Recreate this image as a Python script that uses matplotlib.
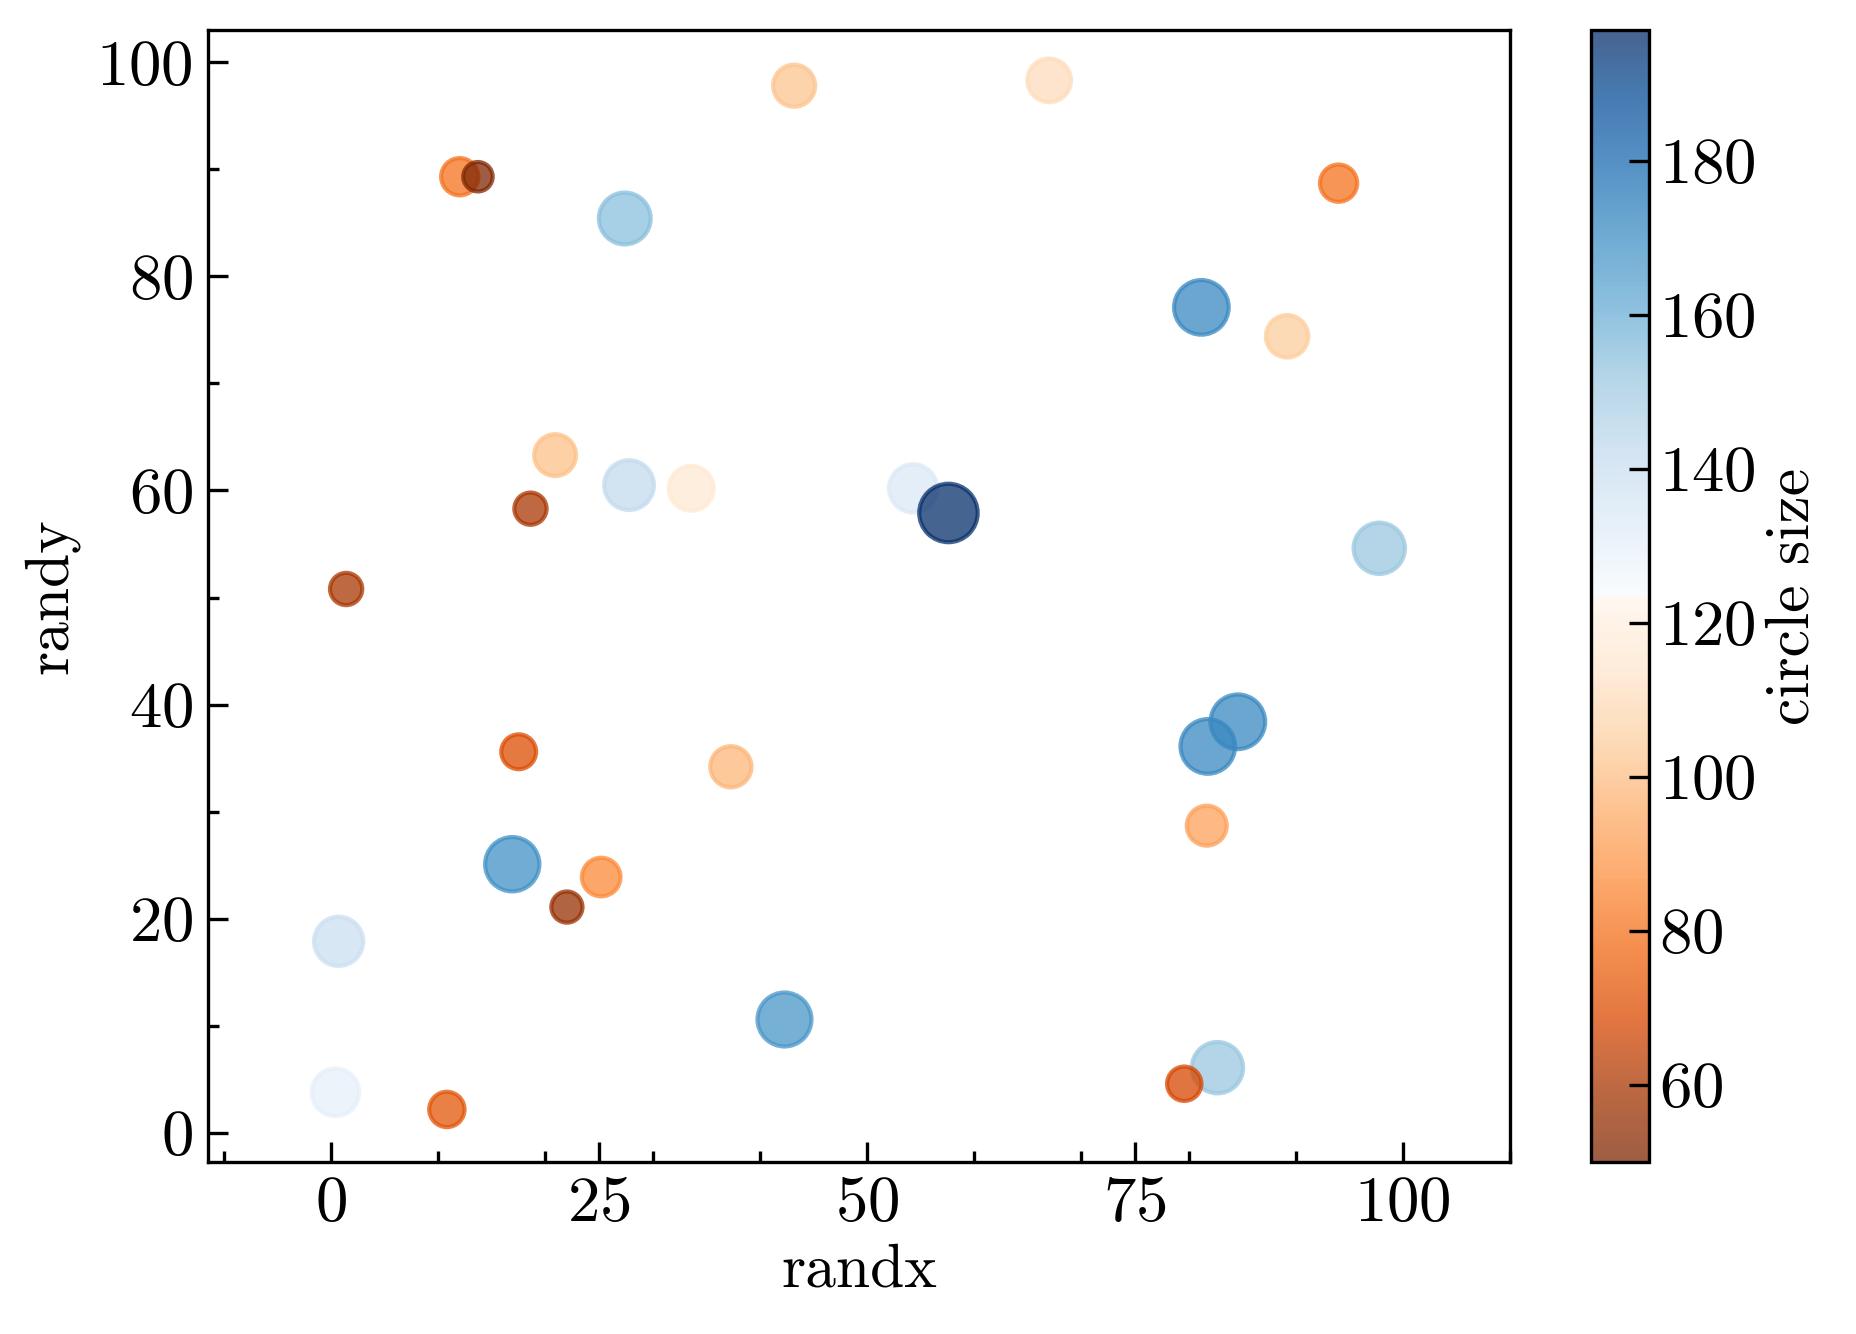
import matplotlib.pyplot as plt
import matplotlib.colors as mcolors
from matplotlib.ticker import MultipleLocator
import numpy as np

plt.rcParams['font.family'] = 'cmr10'
plt.rcParams['mathtext.fontset'] = 'cm'
plt.rcParams['axes.formatter.use_mathtext'] = True
plt.rcParams['font.size'] = 15.6
plt.rcParams['axes.labelsize'] = 14.8

randx = [43.2, 67.0, 12.0, 13.7, 27.4, 94.0, 81.2, 89.2, 20.9, 27.8,
         33.6, 18.6, 54.3, 57.6, 1.4, 97.8, 84.6, 81.8, 17.5, 37.3,
         81.7, 16.9, 25.2, 22.0, 0.7, 42.3, 82.7, 79.6, 0.4, 10.8]
randy = [97.8, 98.3, 89.3, 89.3, 85.4, 88.7, 77.1, 74.4, 63.3, 60.5,
         60.2, 58.3, 60.2, 57.9, 50.8, 54.6, 38.4, 36.1, 35.6, 34.2,
         28.7, 25.1, 23.9, 21.1, 17.9, 10.6, 6.1, 4.6, 3.8, 2.2]
sizes = [102, 110, 80, 50, 155, 80, 172, 104, 101, 143,
         116, 60, 134, 197, 60, 152, 172, 172, 70, 98,
         92, 170, 86, 56, 140, 168, 152, 68, 130, 72]

# orange half below the middle, blue half above
colors = np.vstack([plt.cm.Oranges_r(np.linspace(0, 1, 128)),
                    plt.cm.Blues(np.linspace(0, 1, 128))])
cmap = mcolors.ListedColormap(colors)

fig = plt.figure(figsize=(1856 / 300, 1334 / 300), dpi=300)
ax = fig.add_axes([0.112, 0.129, 0.7016, 0.8485])
cax = fig.add_axes([0.857, 0.129, 0.0315, 0.8485])

sc = ax.scatter(randx, randy, s=sizes, c=sizes, cmap=cmap, alpha=0.75,
                vmin=min(sizes), vmax=max(sizes))
ax.set_xlim(-11.5, 110)
ax.set_ylim(-2.7, 103)
ax.xaxis.set_major_locator(MultipleLocator(25))
ax.xaxis.set_minor_locator(MultipleLocator(10))
ax.yaxis.set_major_locator(MultipleLocator(20))
ax.yaxis.set_minor_locator(MultipleLocator(10))
ax.tick_params(which='both', direction='in', width=0.8)
ax.tick_params(which='major', length=4.7)
ax.tick_params(which='minor', length=2.6)
for sp in ax.spines.values():
    sp.set_linewidth(0.8)
ax.set_xlabel('randx', labelpad=2)
ax.set_ylabel('randy', labelpad=4)

cb = fig.colorbar(sc, cax=cax)
cb.set_label('circle size', labelpad=2)
cb.outline.set_linewidth(0.8)
cax.tick_params(direction='in', width=0.8, length=4.7, pad=2.5)

fig.savefig('out.png', dpi=300)
